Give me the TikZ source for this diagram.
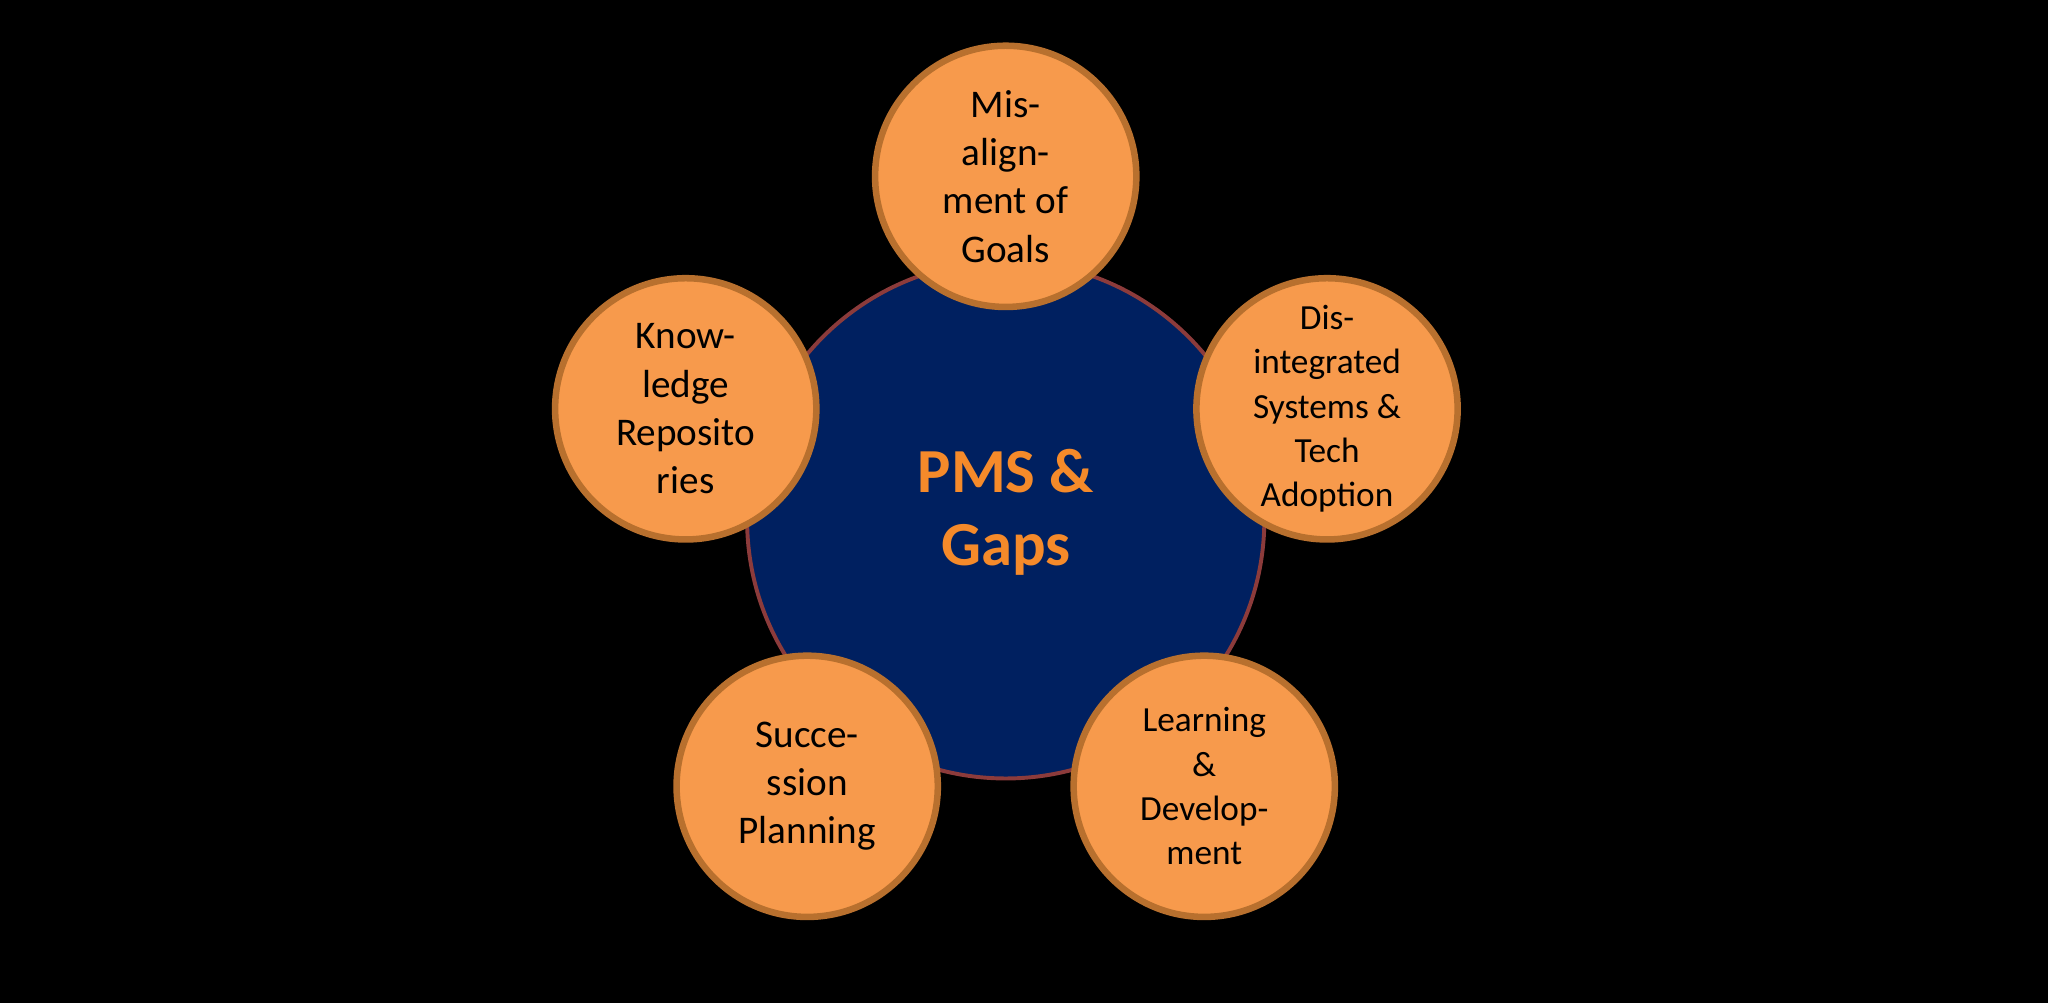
\documentclass[tikz,border=0pt]{standalone}
\usepackage{fontspec}
\setmainfont{Carlito}
\definecolor{orfill}{HTML}{F79A4C}
\definecolor{ordraw}{HTML}{B8702E}
\definecolor{navy}{HTML}{002060}
\definecolor{ring}{HTML}{8C3B3B}
\definecolor{titleor}{HTML}{F58A2A}
\begin{document}
\begin{tikzpicture}[x=0.5pt,y=-0.5pt,
  sat/.style={circle,fill=orfill,draw=ordraw,line width=2.5pt,minimum size=100pt,inner sep=0pt,align=center,text=black,font=\fontsize{15}{18.5}\selectfont},
  satsm/.style={sat,font=\fontsize{13.5}{17}\selectfont}]
\fill[black] (0,0) rectangle (1568,768);
\node[circle,fill=navy,draw=ring,line width=1.5pt,minimum size=198pt,inner sep=0pt] (hub) at (770,398) {};
\node[align=center,font=\fontsize{24}{28}\selectfont\bfseries,text=titleor,draw=none] (title) at (770,392) {PMS \&\\Gaps};
\node[sat] (top) at (770,135) {Mis-\\align-\\ment of\\Goals};
\node[satsm] (right) at (1016,313) {Dis-\\integrated\\Systems \&\\Tech\\Adoption};
\node[satsm] (lr) at (922,602) {Learning\\\&\\Develop-\\ment};
\node[sat] (ll) at (618,602) {Succe-\\ssion\\Planning};
\node[sat] (left) at (525,313) {Know-\\ledge\\Reposito\\ries};
\end{tikzpicture}
\end{document}
